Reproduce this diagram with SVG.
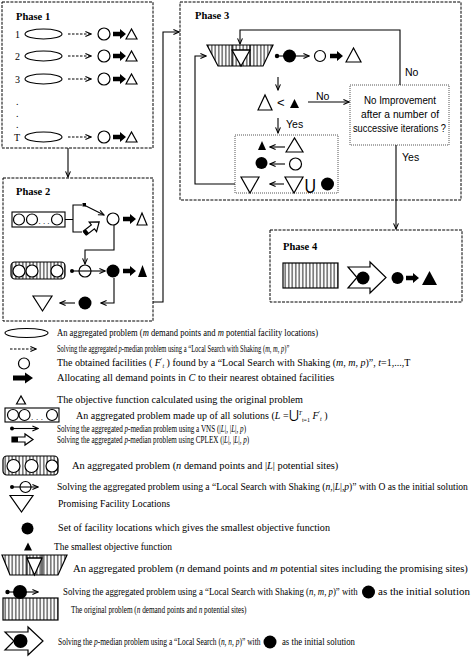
<svg xmlns="http://www.w3.org/2000/svg" width="474" height="665" viewBox="0 0 474 665">
<style>
.s{font-family:"Liberation Serif","DejaVu Serif","Times New Roman",serif;font-size:10px;fill:#000}
.b{font-family:"Liberation Serif","Times New Roman",serif;font-size:10.5px;font-weight:bold;fill:#000}
.a{font-family:"Liberation Sans",Arial,sans-serif;font-size:10.5px;fill:#000}
.i{font-style:italic}
.box{fill:none;stroke:#000;stroke-width:1;stroke-dasharray:3,1.2}
.dot{fill:#fff;stroke:#555;stroke-width:1;stroke-dasharray:1,1}
.ln{fill:none;stroke:#000;stroke-width:1.1}
.arr{fill:none;stroke:#000;stroke-width:1.1;marker-end:url(#ah)}
.dash{fill:none;stroke:#000;stroke-width:1.1;stroke-dasharray:2.5,1.5;marker-end:url(#ah)}
.ho{fill:#fff;stroke:#000;stroke-width:1.2}
.fi{fill:#000;stroke:none}
.hat{fill:url(#vh);stroke:#000;stroke-width:1.2}
</style>
<defs>
<marker id="ah" viewBox="0 0 10 10" refX="9" refY="5" markerWidth="7" markerHeight="7" orient="auto" markerUnits="userSpaceOnUse"><path d="M1,1.5 L9,5 L1,8.5" fill="none" stroke="#000" stroke-width="1.5"/></marker>
<path id="tk" d="M0,-2.2 H7 V-5 L13,0 L7,5 V2.2 H0 Z" fill="#000"/>
<pattern id="vh" patternUnits="userSpaceOnUse" width="3.5" height="20"><line x1="1.75" y1="0" x2="1.75" y2="20" stroke="#000" stroke-width="0.9"/></pattern>
</defs>
<rect width="474" height="665" fill="#fff"/>

<g id="phase1">
<rect class="box" x="2" y="2" width="151" height="146"/>
<text class="b" x="16" y="20">Phase 1</text>
<g id="p1-row1">
<text class="s" x="15" y="38">1</text>
<ellipse class="ln" cx="43.5" cy="34" rx="18.5" ry="5"/>
<line class="dash" x1="68" y1="34" x2="91" y2="34"/>
<circle class="ho" cx="104" cy="34" r="6"/>
<use href="#tk" x="113" y="34"/>
<polygon class="ho" points="126,39 131.5,29 137,39"/>
</g>
<g id="p1-row2">
<text class="s" x="15" y="60">2</text>
<ellipse class="ln" cx="43.5" cy="56" rx="18.5" ry="5"/>
<line class="dash" x1="68" y1="56" x2="91" y2="56"/>
<circle class="ho" cx="104" cy="56" r="6"/>
<use href="#tk" x="113" y="56"/>
<polygon class="ho" points="126,61 131.5,51 137,61"/>
</g>
<g id="p1-row3">
<text class="s" x="15" y="83">3</text>
<ellipse class="ln" cx="43.5" cy="79" rx="18.5" ry="5"/>
<line class="dash" x1="68" y1="79" x2="91" y2="79"/>
<circle class="ho" cx="104" cy="79" r="6"/>
<use href="#tk" x="113" y="79"/>
<polygon class="ho" points="126,84 131.5,74 137,84"/>
</g>
<text class="s" x="16" y="105">.</text>
<text class="s" x="16" y="117">.</text>
<text class="s" x="16" y="128">.</text>
<g id="p1-rowT">
<text class="s" x="14" y="141">T</text>
<ellipse class="ln" cx="43.5" cy="137" rx="18.5" ry="5"/>
<line class="dash" x1="68" y1="137" x2="91" y2="137"/>
<circle class="ho" cx="104" cy="137" r="6"/>
<use href="#tk" x="113" y="137"/>
<polygon class="ho" points="126,142 131.5,132 137,142"/>
</g>
</g>

<g id="phase2">
<rect class="box" x="3" y="178" width="150" height="143"/>
<text class="b" x="16" y="195">Phase 2</text>
<g id="p2-union">
<rect class="ln" x="12" y="212" width="53" height="15" stroke-width="1.2"/>
<circle class="ho" cx="19" cy="219.5" r="5.5"/>
<circle class="ho" cx="32" cy="219.5" r="5.5"/>
<text class="s" x="38.5" y="224" style="font-size:9px" textLength="11" lengthAdjust="spacing">...</text>
<circle class="ho" cx="57" cy="219.5" r="5.5"/>
</g>
<g id="p2-solvers">
<path class="ln" d="M65,219.5 H73 M82,205 H73 V232 H82"/>
<rect class="fi" x="82.5" y="203" width="3.5" height="3.5"/>
<line class="arr" x1="85" y1="205.5" x2="104" y2="215"/>
<g transform="translate(85,233) rotate(-38)"><path class="ho" d="M0,-2.5 H10 V-6 L18,0 L10,6 V2.5 H0 Z"/><rect class="fi" x="-1" y="-2.5" width="4" height="5"/></g>
<circle class="ho" cx="113" cy="219" r="6"/>
<use href="#tk" x="123" y="219"/>
<polygon class="ho" points="137,225 142,213 147,225"/>
</g>
<g id="p2-ls">
<rect class="hat" x="11" y="262" width="54" height="17" rx="4"/>
<circle class="ho" cx="19" cy="271" r="6"/>
<circle class="ho" cx="32" cy="271" r="6"/>
<circle class="ho" cx="57" cy="271" r="6"/>
<circle class="fi" cx="72" cy="271" r="2"/>
<line class="ln" x1="72" y1="271" x2="79" y2="271"/>
<circle class="ho" cx="85" cy="271" r="6"/>
<line class="ln" x1="79" y1="271" x2="91" y2="271"/>
<line class="arr" x1="91" y1="271" x2="105" y2="271"/>
<circle class="fi" cx="113" cy="271" r="6.5"/>
<use href="#tk" x="123" y="271"/>
<polygon class="fi" points="138,277 142.5,265 147,277"/>
</g>
<g id="p2-promising">
<circle class="fi" cx="85" cy="303" r="6.5"/>
<line class="arr" x1="75" y1="303" x2="60" y2="303"/>
<polygon class="ho" points="33,296 52,296 42.5,311"/>
</g>
</g>

<g id="phase3">
<rect class="box" x="180" y="2" width="281" height="198"/>
<text class="b" x="195" y="19">Phase 3</text>
<g id="p3-trap">
<polygon points="207,45 273,45 263,66 218,66" fill="url(#vh)"/>
<polygon points="232,50 250,50 241,66" fill="#fff" stroke="#000" stroke-width="1.2"/>
<path class="ln" d="M232,45 V66 M250,45 V66 M232,50 H250"/>
<polygon points="207,45 273,45 263,66 218,66" fill="none" stroke="#000" stroke-width="1.2"/>
</g>
<g id="p3-ls">
<circle class="fi" cx="277" cy="56" r="2.2"/>
<line class="ln" x1="277" y1="56" x2="284" y2="56"/>
<circle class="fi" cx="289.5" cy="56" r="6.5"/>
<line class="arr" x1="295" y1="56" x2="309" y2="56"/>
<circle class="ho" cx="320" cy="56" r="5.5"/>
<use href="#tk" x="330" y="56"/>
<polygon class="ho" points="346,62 353.5,48 361,62"/>
</g>
<g id="p3-compare">
<polygon class="ho" points="258,110 265,95 272,110"/>
<text class="a" x="277" y="107" style="font-size:13px">&lt;</text>
<polygon class="fi" points="290,108 294.5,99 299,108"/>
</g>
<g id="p3-update">
<rect class="dot" x="235" y="135" width="103" height="58"/>
<polygon class="fi" points="258,150 262,141 266,150"/>
<line class="arr" x1="285" y1="147" x2="270" y2="147"/>
<polygon class="ho" points="286,152 294.5,138 303,152"/>
<circle class="fi" cx="261.5" cy="163" r="6"/>
<line class="arr" x1="285" y1="164" x2="270" y2="164"/>
<circle class="ho" cx="295.5" cy="164" r="6"/>
<polygon class="ho" points="241,177 259,177 250,193"/>
<line class="arr" x1="284" y1="184" x2="270" y2="184"/>
<polygon class="ho" points="285,177 303,177 294,193"/>
<text class="a" x="304.5" y="193" style="font-size:21px" textLength="11.5" lengthAdjust="spacingAndGlyphs">U</text>
<circle class="fi" cx="327.5" cy="184" r="6.5"/>
</g>
<g id="p3-decision">
<rect class="dot" x="350" y="85" width="99" height="60"/>
<text class="a" x="364" y="104" textLength="72" lengthAdjust="spacingAndGlyphs">No Improvement</text>
<text class="a" x="361" y="118" textLength="78" lengthAdjust="spacingAndGlyphs">after a number of</text>
<text class="a" x="353" y="132" textLength="93" lengthAdjust="spacingAndGlyphs">successive iterations ?</text>
</g>
</g>

<g id="phase4">
<rect class="box" x="270" y="230" width="192" height="72"/>
<text class="b" x="283" y="250">Phase 4</text>
<rect class="hat" x="283" y="263" width="55" height="25"/>
<polygon class="ho" points="348,267 370,267 370,262 386,277.5 370,293 370,288 348,288 357,277.5"/>
<circle class="fi" cx="363" cy="278" r="6.5"/>
<circle class="fi" cx="397.5" cy="278" r="6"/>
<use href="#tk" x="406" y="278"/>
<polygon class="fi" points="422,285 429.5,271 437,285"/>
</g>

<g id="connectors">
<line class="arr" x1="68" y1="148" x2="68" y2="177"/>
<path class="arr" d="M153,302 H163 V32 H179"/>
<path class="arr" d="M114,225 V250 H85 V264"/>
<path class="arr" d="M114,278 V303 H101"/>
<path class="arr" d="M400,85 V30 H240 V44"/>
<path class="arr" d="M235,184 H195 V56 H206"/>
<line class="arr" x1="278" y1="77" x2="278" y2="90"/>
<line class="arr" x1="308" y1="102" x2="349" y2="102"/>
<line class="arr" x1="278" y1="118" x2="278" y2="133"/>
<path class="arr" d="M396,145 V229"/>
<text class="a" x="405" y="76">No</text>
<text class="a" x="316" y="100">No</text>
<text class="a" x="286" y="128">Yes</text>
<text class="a" x="402" y="161">Yes</text>
</g>

<g id="legend">
<g id="lg1">
<ellipse class="ln" cx="26.5" cy="333" rx="21.5" ry="4.5"/>
<text class="s" transform="translate(57,336) scale(0.855,1)">An aggregated problem (<tspan class="i">m</tspan> demand points and <tspan class="i">m</tspan> potential facility locations)</text>
</g>
<g id="lg2">
<line class="dash" x1="10" y1="349" x2="36" y2="349"/>
<text class="s" style="font-size:9.5px" transform="translate(57,352) scale(0.686,1)">Solving the aggregated <tspan class="i">p</tspan>-median problem using a “Local Search with Shaking (<tspan class="i">m</tspan>, <tspan class="i">m</tspan>, <tspan class="i">p</tspan>)”</text>
</g>
<g id="lg3">
<circle class="ho" cx="24" cy="363.5" r="5.5"/>
<text class="s" transform="translate(57,366)">The obtained facilities ( <tspan class="i">F</tspan><tspan font-size="7" dy="-4">′</tspan><tspan font-size="6" dy="6" class="i">t</tspan><tspan dy="-2"> ) found by a “Local Search with Shaking (</tspan><tspan class="i">m</tspan>, <tspan class="i">m</tspan>, <tspan class="i">p</tspan>)”, <tspan class="i">t</tspan>=1,...,T</text>
</g>
<g id="lg4">
<path class="fi" d="M13,375.5 H25 V372.5 L33,378 L25,383.5 V380.5 H13 Z"/>
<text class="s" style="font-size:10.5px" transform="translate(57,381) scale(0.975,1)">Allocating all demand points in <tspan class="i">C</tspan> to their nearest obtained facilities</text>
</g>
<g id="lg5">
<polygon class="ho" points="16.5,404 21,396 25.5,404"/>
<text class="s" x="57" y="403" textLength="246" lengthAdjust="spacingAndGlyphs">The objective function calculated using the original problem</text>
</g>
<g id="lg6">
<rect class="ln" x="5" y="408" width="54" height="14" stroke-width="1.2"/>
<circle class="ho" cx="13" cy="415" r="5.5"/>
<circle class="ho" cx="24.5" cy="415" r="5.5"/>
<text class="s" x="31" y="420" style="font-size:9px" textLength="12" lengthAdjust="spacing">...</text>
<circle class="ho" cx="52" cy="415" r="5.5"/>
<text class="s" transform="translate(76,419)">An aggregated problem made up of all solutions (<tspan class="i">L</tspan> =<tspan font-size="12">⋃</tspan><tspan font-size="6" dy="-4" class="i">T</tspan><tspan font-size="6" dy="7">t=1</tspan><tspan dy="-3" class="i"> F</tspan><tspan font-size="7" dy="-4">′</tspan><tspan font-size="6" dy="6" class="i">t</tspan><tspan dy="-2"> )</tspan></text>
</g>
<g id="lg7">
<circle class="fi" cx="12" cy="428.5" r="2"/>
<line class="arr" x1="12" y1="428.5" x2="38" y2="428.5"/>
<text class="s" style="font-size:9.5px" transform="translate(57,432) scale(0.752,1)">Solving the aggregated <tspan class="i">p</tspan>-median problem using a VNS (|<tspan class="i">L</tspan>|, |<tspan class="i">L</tspan>|, <tspan class="i">p</tspan>)</text>
</g>
<g id="lg8">
<path class="ho" d="M12,437 H25 V434 L33,439.5 L25,445 V442 H12 Z"/>
<rect class="fi" x="12" y="437" width="6" height="5"/>
<text class="s" style="font-size:9.5px" transform="translate(57,443) scale(0.75,1)">Solving the aggregated <tspan class="i">p</tspan>-median problem using CPLEX (|<tspan class="i">L</tspan>|, |<tspan class="i">L</tspan>|, <tspan class="i">p</tspan>)</text>
</g>
<g id="lg9">
<rect class="hat" x="3" y="456" width="55" height="19" rx="4"/>
<circle class="ho" cx="13.5" cy="466" r="6.5"/>
<circle class="ho" cx="31.5" cy="466" r="6.5"/>
<circle class="ho" cx="52" cy="466" r="6"/>
<text class="s" style="font-size:10.5px" transform="translate(72,469) scale(0.99,1)">An aggregated problem (<tspan class="i">n</tspan> demand points and |<tspan class="i">L</tspan>| potential sites)</text>
</g>
<g id="lg10">
<circle class="fi" cx="12" cy="487" r="2"/>
<line class="ln" x1="12" y1="487" x2="31" y2="487"/>
<circle class="ho" cx="25.5" cy="487" r="5.5"/>
<line class="ln" x1="20" y1="487" x2="31" y2="487"/>
<line class="arr" x1="31" y1="487" x2="38" y2="487"/>
<text class="s" style="font-size:10.5px" transform="translate(57,490) scale(0.915,1)">Solving the aggregated problem using a “Local Search with Shaking (<tspan class="i">n</tspan>,|<tspan class="i">L</tspan>|,<tspan class="i">p</tspan>)” with O as the initial solution</text>
</g>
<g id="lg11">
<polygon class="ho" points="10,495.5 33,495.5 21.5,512"/>
<text class="s" x="58" y="507" textLength="112" lengthAdjust="spacingAndGlyphs">Promising Facility Locations</text>
</g>
<g id="lg12">
<circle class="fi" cx="27.5" cy="528.5" r="6"/>
<text class="s" x="58" y="531" textLength="272" lengthAdjust="spacingAndGlyphs">Set of facility locations which gives the smallest objective function</text>
</g>
<g id="lg13">
<polygon class="fi" points="24,550.5 28,542.5 32,550.5"/>
<text class="s" x="54" y="550" textLength="118" lengthAdjust="spacingAndGlyphs">The smallest objective function</text>
</g>
<g id="lg14">
<polygon points="2,555 67,555 58,575 10,575" fill="url(#vh)"/>
<polygon points="27,558 42,558 34.5,575" fill="#fff" stroke="#000" stroke-width="1.2"/>
<path class="ln" d="M27,555 V575 M42,555 V575 M27,558 H42"/>
<polygon points="2,555 67,555 58,575 10,575" fill="none" stroke="#000" stroke-width="1.2"/>
<text class="s" style="font-size:10.5px" transform="translate(73,572) scale(1.01,1)">An aggregated problem (<tspan class="i">n</tspan> demand points and <tspan class="i">m</tspan> potential sites including the promising sites)</text>
</g>
<g id="lg15">
<circle class="fi" cx="7.5" cy="592" r="2.2"/>
<line class="ln" x1="7.5" y1="592" x2="14" y2="592"/>
<circle class="fi" cx="20" cy="592" r="7"/>
<line class="arr" x1="26" y1="592" x2="38" y2="592"/>
<text class="s" style="font-size:10px" transform="translate(63,595) scale(0.88,1)">Solving the aggregated problem using a “Local Search with Shaking (<tspan class="i">n</tspan>, <tspan class="i">m</tspan>, <tspan class="i">p</tspan>)” with</text>
<circle class="fi" cx="368.5" cy="592" r="6.5"/>
<text class="s" x="378" y="595" style="font-size:11px">as the initial solution</text>
</g>
<g id="lg16">
<rect class="hat" x="3" y="598" width="55" height="22"/>
<text class="s" style="font-size:9.5px" transform="translate(71,613) scale(0.763,1)">The original problem (<tspan class="i">n</tspan> demand points and <tspan class="i">n</tspan> potential sites)</text>
</g>
<g id="lg17">
<polygon class="ho" points="5,632 28,632 28,627 43,641 28,655 28,650 5,650 14,641"/>
<circle class="fi" cx="20.5" cy="641" r="7"/>
<text class="s" style="font-size:9.5px" transform="translate(58,645) scale(0.787,1)">Solving the <tspan class="i">p</tspan>-median problem using a “Local Search (<tspan class="i">n</tspan>, <tspan class="i">n</tspan>, <tspan class="i">p</tspan>)” with</text>
<circle class="fi" cx="270" cy="642" r="6.5"/>
<text class="s" x="282" y="645" style="font-size:9.5px" textLength="73" lengthAdjust="spacingAndGlyphs">as the initial solution</text>
</g>
</g>
</svg>
